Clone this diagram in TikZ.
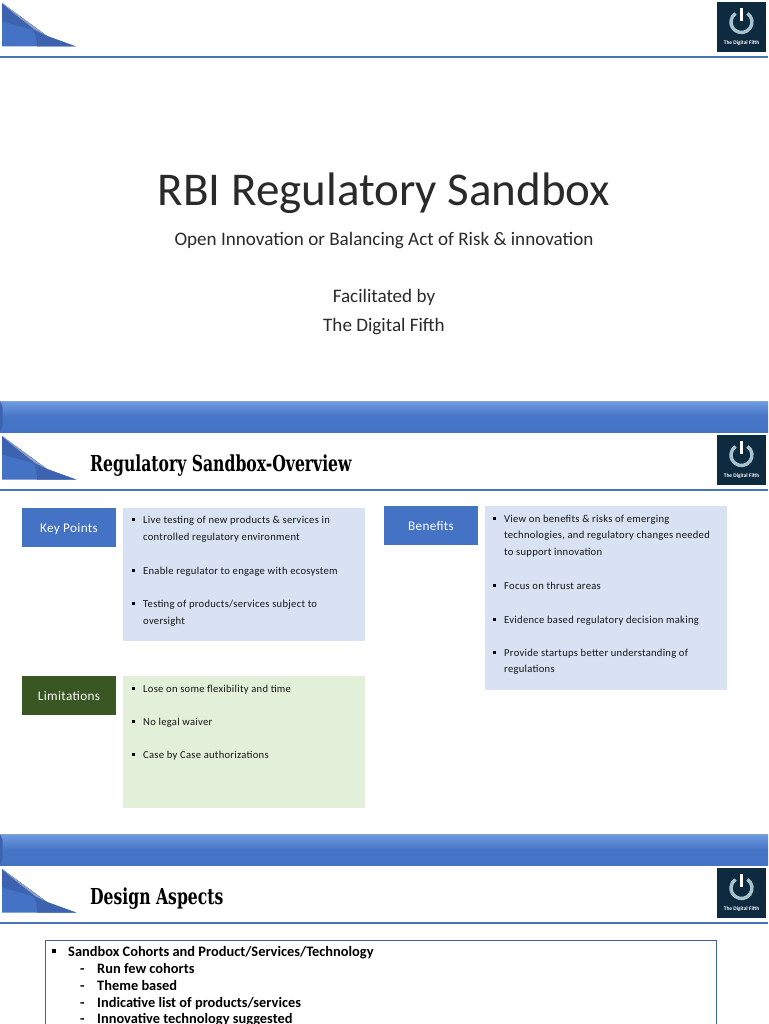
\documentclass[tikz,border=0pt]{standalone}
\usepackage{fontspec}
\setmainfont{Carlito}
\newfontfamily\headfont[FakeStretch=0.71]{DejaVu Serif}
\newfontfamily\bodyfont[LetterSpace=2.6]{Carlito}
\definecolor{slideblue}{HTML}{4472C4}
\definecolor{bandtop}{HTML}{6E9BE4}
\definecolor{rulegrey}{HTML}{8FA3BF}
\definecolor{lineblue}{HTML}{4A74B8}
\definecolor{wedgedark}{HTML}{3D63B0}
\definecolor{wedgegrey}{HTML}{8E9FC4}
\definecolor{logonavy}{HTML}{0E2A3F}
\definecolor{logoarc}{HTML}{A8C2CE}
\definecolor{panelblue}{HTML}{D9E2F3}
\definecolor{panelgreen}{HTML}{E2F0D9}
\definecolor{tagblue}{HTML}{4472C4}
\definecolor{taggreen}{HTML}{385723}
\definecolor{framecol}{HTML}{3E629E}
\definecolor{inktext}{HTML}{141414}
\definecolor{titleink}{HTML}{2A2A2A}
\tikzset{
    tag/.style={draw=none, fill=#1, text=white, minimum width=94pt, minimum height=39pt, inner sep=0, text height=12pt, text depth=3pt, font=\bodyfont\fontsize{13.2}{15}\selectfont},
    panel/.style={draw=none, fill=#1, minimum width=242pt, inner sep=0},
    itemtext/.style={anchor=north west, align=left, inner sep=0, text=inktext, font=\bodyfont\fontsize{10.6}{16.6}\selectfont},
    itemmark/.style={fill=black, minimum size=3pt, inner sep=0},
    bigtext/.style={inner sep=0, text=titleink, font=\fontsize{19.1}{22}\selectfont},
    headtext/.style={anchor=west, inner sep=0, text=black, font=\headfont\bfseries\fontsize{22}{26}\selectfont},
    cohort/.style={anchor=base west, inner sep=0, text=black, font=\bfseries\fontsize{14.4}{16}\selectfont}
}
\begin{document}
\begin{tikzpicture}[x=1pt,y=-1pt]
    \path[use as bounding box] (0,0) rectangle (768,1024);
    \clip (0,0) rectangle (768,1024);
    \fill[white] (0,0) rectangle (768,1024);
    \foreach \y in {401,834} {
        \shade[top color=bandtop, bottom color=slideblue, middle color=slideblue!92!bandtop] (0,\y) rectangle (768,\y+31);
        \fill[rulegrey] (0,\y-0.5) rectangle (768,\y+0.8);
        \fill[wedgedark] (0,\y) -- (2.5,\y+6) -- (2.5,\y+25) -- (0,\y+31) -- cycle;
    }
    \foreach \off/\sid in {0/a,433/b,866/c} {
        \begin{scope}[yshift=-\off pt]
            \fill[slideblue] (2,3) -- (47,36) -- (76,46.5) -- (2,46.5) -- cycle;
            \fill[wedgedark] (2,3) -- (47,36) -- (33,30) .. controls (22,27) and (10,24) .. (2,21) -- cycle;
            \fill[wedgegrey] (2,3) -- (47,36) -- (35,30) .. controls (28,24) and (15,15) .. (2,3) -- cycle;
            \fill[wedgedark] (33,30) -- (47,36) -- (76,46.5) -- (37,46.5) .. controls (37,40) and (36,34) .. (33,30) -- cycle;
            \fill[lineblue] (0,55.6) rectangle (768,57.6);
            \node[fill=logonavy, minimum width=49pt, minimum height=50pt, inner sep=0] (logo\sid) at (741.5,27) {};
            \draw[logoarc, line width=3.4pt] (747.5,13.4) arc (55:-235:10.5pt);
            \draw[white, line width=2.4pt] (741.5,8) -- (741.5,21);
            \node[inner sep=0, text=white, font=\bfseries\fontsize{5.4}{6}\selectfont] (logotext\sid) at (741.5,43) {The Digital Fifth};
        \end{scope}
    }
    \node[inner sep=0, text=titleink, font=\fontsize{47}{52}\selectfont] (title) at (384,193.5) {RBI Regulatory Sandbox};
    \node[bigtext] (subtitle) at (384,240.5) {Open Innovation or Balancing Act of Risk \& innovation};
    \node[bigtext] (facilitated) at (384,297.5) {Facilitated by};
    \node[bigtext] (fifth) at (384,327) {The Digital Fifth};
    \node[headtext] (overview) at (90,465.5) {Regulatory Sandbox-Overview};
    \node[headtext] (design) at (90,898.5) {Design Aspects};
    \node[tag=tagblue] (keypoints) at (69,527.5) {Key Points};
    \node[panel=panelblue, minimum height=133pt] (keypanel) at (244,574.5) {};
    \node[tag=taggreen] (limitations) at (69,695.5) {Limitations};
    \node[panel=panelgreen, minimum height=132pt] (limitpanel) at (244,742) {};
    \node[tag=tagblue] (benefits) at (431,525.5) {Benefits};
    \node[panel=panelblue, minimum height=184pt] (benefitpanel) at (606,598) {};
    \foreach \iid/\ix/\iy/\itxt in {
        keya/143/519.5/{Live testing of new products \& services in\\controlled regulatory environment},
        keyb/143/570/{Enable regulator to engage with ecosystem},
        keyc/143/603.5/{Testing of products/services subject to\\oversight},
        limita/143/688/{Lose on some flexibility and time},
        limitb/143/721/{No legal waiver},
        limitc/143/754/{Case by Case authorizations},
        bena/504/518/{View on benefits \& risks of emerging\\technologies, and regulatory changes needed\\to support innovation},
        benb/504/585/{Focus on thrust areas},
        benc/504/619/{Evidence based regulatory decision making},
        bend/504/652/{Provide startups better understanding of\\regulations}%
    } {
        \node[itemtext] (\iid) at (\ix,\iy-3.5) {\itxt};
        \node[itemmark] (mark\iid) at (\ix-10,\iy) {};
    }
    \node[draw=framecol, line width=1pt, minimum width=671pt, minimum height=110pt, inner sep=0] (cohortframe) at (380.5,995) {};
    \node[itemmark, minimum size=3.6pt] (cohortmark) at (54,951) {};
    \node[cohort] (cohorthead) at (68,956.5) {Sandbox Cohorts and Product/Services/Technology};
    \foreach \iid/\iy/\itxt in {
        runfew/973/{Run few cohorts},
        theme/990.5/{Theme based},
        indicative/1007.5/{Indicative list of products/services},
        innovative/1023.5/{Innovative technology suggested}%
    } {
        \node[cohort] (dash\iid) at (80,\iy) {-};
        \node[cohort] (\iid) at (97,\iy) {\itxt};
    }
\end{tikzpicture}
\end{document}
